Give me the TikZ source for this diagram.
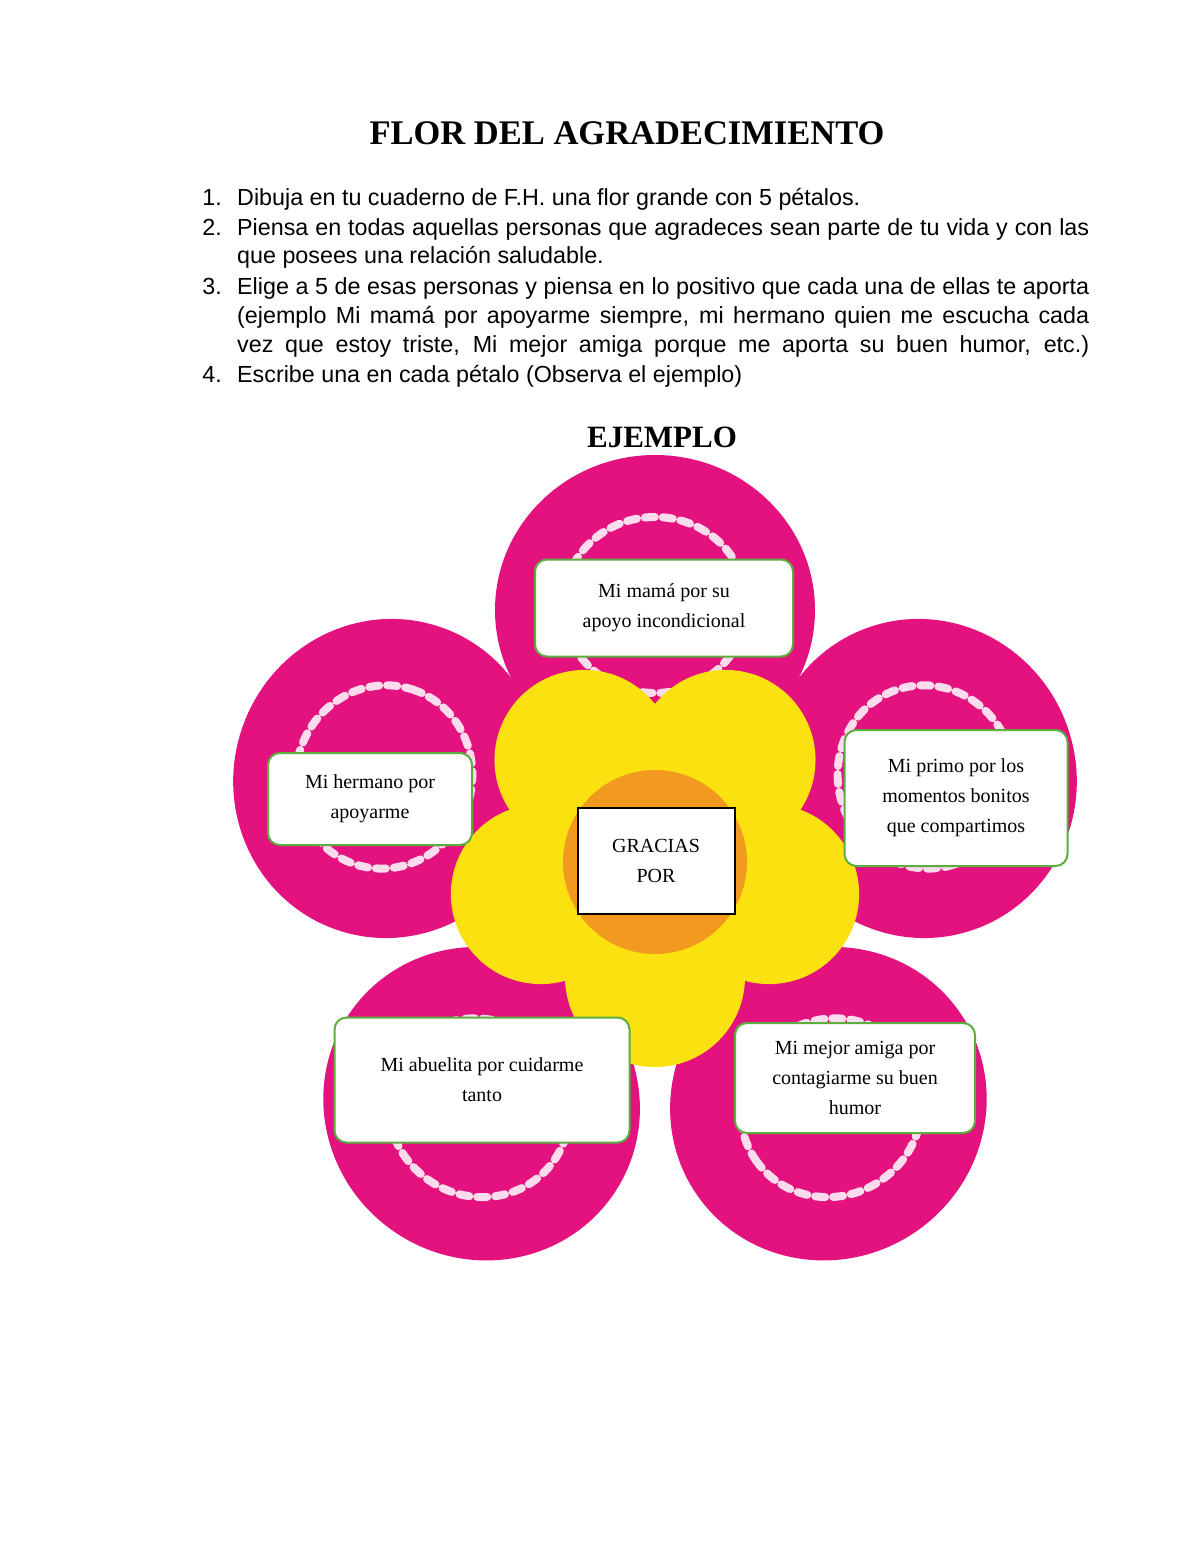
\documentclass[tikz,border=0pt]{standalone}
\usepackage{fontspec}
\setmainfont{Liberation Serif}
\newfontfamily\arial{Liberation Sans}
\definecolor{pinkp}{HTML}{E3127E}
\definecolor{yel}{HTML}{FBE10F}
\definecolor{orng}{HTML}{F29A1F}
\definecolor{grn}{HTML}{5BAE3F}
\tikzset{
 petal/.style={fill=pinkp,draw=none},
 loopd/.style={draw=white!85!pinkp,line width=8pt,dash pattern=on 10pt off 8pt,line cap=round},
 gbox/.style={draw=grn,line width=2pt,rounded corners=12pt,fill=white,align=center,font=\fontsize{20}{30}\selectfont},
 item/.style={anchor=base west,font=\arial\fontsize{23.3}{29}\selectfont,inner sep=0pt}
}
\begin{document}
\begin{tikzpicture}[x=1pt,y=-1pt]
\useasboundingbox (0,0) rectangle (1200,1553);
\fill[white] (0,0) rectangle (1200,1553);
\node[anchor=base,font=\bfseries\fontsize{34.5}{40}\selectfont] (title) at (627,144) {FLOR DEL AGRADECIMIENTO};
\foreach \n/\y in {1/205,2/235,3/294,4/382}
 {\node[item,anchor=base east] (n\n) at (222,\y) {\n.};}
\node[item] (l1) at (237,205) {Dibuja en tu cuaderno de F.H. una flor grande con 5 pétalos.};
\node[item] (l2) at (237,235) {\makebox[852pt][s]{Piensa en todas aquellas personas que agradeces sean parte de tu vida y con las}};
\node[item] (l3) at (237,263) {que posees una relación saludable.};
\node[item] (l4) at (237,294) {\makebox[852pt][s]{Elige a 5 de esas personas y piensa en lo positivo que cada una de ellas te aporta}};
\node[item] (l5) at (237,323) {\makebox[852pt][s]{(ejemplo Mi mamá por apoyarme siempre, mi hermano quien me escucha cada}};
\node[item] (l6) at (237,352) {\makebox[852pt][s]{vez que estoy triste, Mi mejor amiga porque me aporta su buen humor, etc.)}};
\node[item] (l7) at (237,382) {Escribe una en cada pétalo (Observa el ejemplo)};
% petals
\foreach \a/\d in {90/255,162/280,18/280,234/295,306/295}{
 \begin{scope}[shift={(655,865)},rotate=-\a+90]
  \fill[petal] (0,-\d) ellipse [x radius=160,y radius=155];
  \draw[loopd] (0,-\d-5) ellipse [x radius=92,y radius=88];
 \end{scope}}
% yellow center
\fill[yel] (655,857) circle (135);
\foreach \a in {54,126,198,270,342}
 \fill[yel] (655,857) ++(-\a:120) circle (90);
\fill[orng] (655,862) circle (92);
\node[anchor=base,font=\bfseries\fontsize{31}{36}\selectfont] (ej) at (662,447) {EJEMPLO};
\node[draw=black,line width=2pt,fill=white,minimum width=157pt,minimum height=106pt,align=center,font=\fontsize{20}{30}\selectfont] (c) at (656,861) {GRACIAS\\POR};
\node[gbox,minimum width=258pt,minimum height=97pt] (b1) at (664,608) {Mi mamá por su\\apoyo incondicional};
\node[gbox,minimum width=204pt,minimum height=92pt] (b2) at (370,799) {Mi hermano por\\apoyarme};
\node[gbox,minimum width=223pt,minimum height=136pt] (b3) at (956,798) {Mi primo por los\\momentos bonitos\\que compartimos};
\node[gbox,minimum width=295pt,minimum height=125pt] (b4) at (482,1080) {Mi abuelita por cuidarme\\tanto};
\node[gbox,minimum width=240pt,minimum height=110pt] (b5) at (855,1078) {Mi mejor amiga por\\contagiarme su buen\\humor};
\end{tikzpicture}
\end{document}
